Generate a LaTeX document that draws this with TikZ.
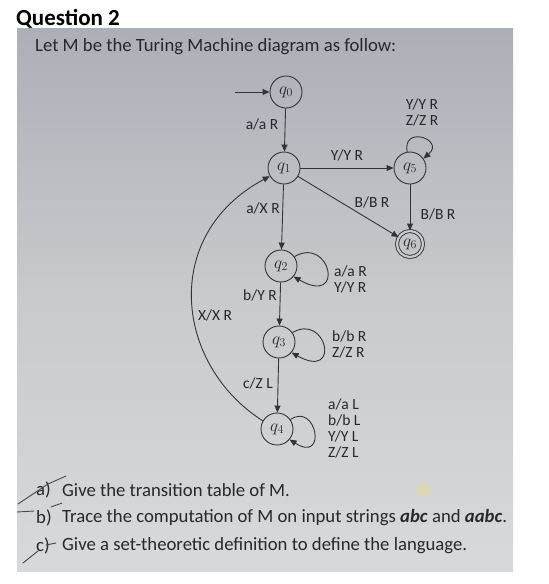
\documentclass[tikz,border=0pt]{standalone}
\usepackage[no-math]{fontspec}
\setmainfont{Carlito}
\usetikzlibrary{arrows.meta}
\definecolor{ink}{RGB}{52,52,56}
\definecolor{txt}{RGB}{40,40,44}
\definecolor{pantop}{RGB}{172,175,182}
\definecolor{panmid}{RGB}{200,202,205}
\definecolor{panbot}{RGB}{216,217,219}
\definecolor{pencil}{RGB}{70,70,78}
\begin{document}
\begin{tikzpicture}[x=1pt,y=-1pt,
  state/.style={circle,draw=ink,line width=0.9pt,minimum size=32pt,inner sep=0pt,
    font=\fontsize{17}{17}\selectfont,text=txt},
  accstate/.style={state,double=panmid,double distance=2.2pt,minimum size=26pt},
  lbl/.style={font=\fontsize{15.5}{16}\selectfont,text=txt,inner sep=0pt},
  body/.style={font=\fontsize{18.7}{22}\selectfont,text=txt,inner sep=0pt,anchor=west},
  tr/.style={draw=ink,line width=0.9pt,-{Triangle[length=7pt,width=6pt]}},
  pencilmark/.style={draw=pencil,line width=0.9pt,line cap=round}]
% canvas
\useasboundingbox (0,0) rectangle (549,584);
\fill[white] (0,0) rectangle (549,584);
\shade[top color=pantop,bottom color=panbot,middle color=panmid] (17,28) rectangle (513,571);
\fill[yellow!40!panmid,opacity=0.5] (423,489) ellipse (8pt and 6pt);
% title and intro
\node[body,anchor=base west,font=\fontsize{23}{25}\bfseries\selectfont,text=black] (title) at (16,25) {Question 2};
\node[body] (intro) at (35,47) {Let M be the Turing Machine diagram as follow:};
% states
\node[state] (q0) at (286,92) {$q_0$};
\node[state] (q1) at (284,168) {$q_1$};
\node[state] (q5) at (410,168) {$q_5$};
\node[accstate] (q6) at (410,244) {$q_6$};
\node[state] (q2) at (281,266) {$q_2$};
\node[state] (q3) at (279,342) {$q_3$};
\node[state] (q4) at (277,429) {$q_4$};
\coordinate (init) at (235,92);
% transitions
\draw[tr] (init) -- (q0);
\draw[tr] (q0) -- (q1);
\draw[tr] (q1) -- (q5);
\draw[tr] (q1) -- (q6);
\draw[tr] (q5) -- (q6);
\draw[tr] (q1) -- (q2);
\draw[tr] (q2) -- (q3);
\draw[tr] (q3) -- (q4);
\draw[tr] (q4.150) .. controls (175,365) and (160,235) .. (q1.210);
\draw[tr] (q2.35) .. controls +(36,-21) and +(52,30) .. (q2.-40);
\draw[tr] (q3.35) .. controls +(34,-20) and +(50,28) .. (q3.-40);
\draw[tr] (q4.35) .. controls +(26,-18) and +(38,24) .. (q4.-40);
\draw[tr] (q5.100) .. controls +(-5,-27) and +(22,-19) .. (q5.35);
% labels
\node[lbl] (l01) at (262,124) {a/a R};
\node[lbl] (l12) at (263,208) {a/X R};
\node[lbl] (l15) at (347,155) {Y/Y R};
\node[lbl] (l16) at (372,202) {B/B R};
\node[lbl] (l56) at (438,214) {B/B R};
\node[lbl,align=center] (l55) at (422,112) {Y/Y R\\Z/Z R};
\node[lbl,align=left,anchor=west] (l22) at (334,279) {a/a R\\Y/Y R};
\node[lbl,align=left,anchor=west] (l33) at (332,344) {b/b R\\Z/Z R};
\node[lbl,align=left,anchor=west] (l44) at (328,428) {a/a L\\b/b L\\Y/Y L\\Z/Z L};
\node[lbl] (l23) at (260,295) {b/Y R};
\node[lbl] (l34) at (258,383) {c/Z L};
\node[lbl] (l41) at (215,315) {X/X R};
% questions
\node[body] (qa) at (36,490) {a)};
\node[body] (qat) at (62,490) {Give the transition table of M.};
\node[body] (qb) at (36,518) {b)};
\node[body] (qbt) at (62,518) {Trace the computation of M on input strings \textbf{\textit{abc}} and \textbf{\textit{aabc}}.};
\node[body] (qc) at (36,546) {c)};
\node[body] (qct) at (62,546) {Give a set-theoretic definition to define the language.};
% pencil marks
\draw[pencilmark] (18,504) -- (48,484) -- (66,476);
\draw[pencilmark] (17,512) -- (34,511);
\draw[pencilmark] (51,507) -- (62,503);
\draw[pencilmark] (23,563) -- (38,551);
\draw[pencilmark] (46,545) -- (56,543);
\end{tikzpicture}
\end{document}
